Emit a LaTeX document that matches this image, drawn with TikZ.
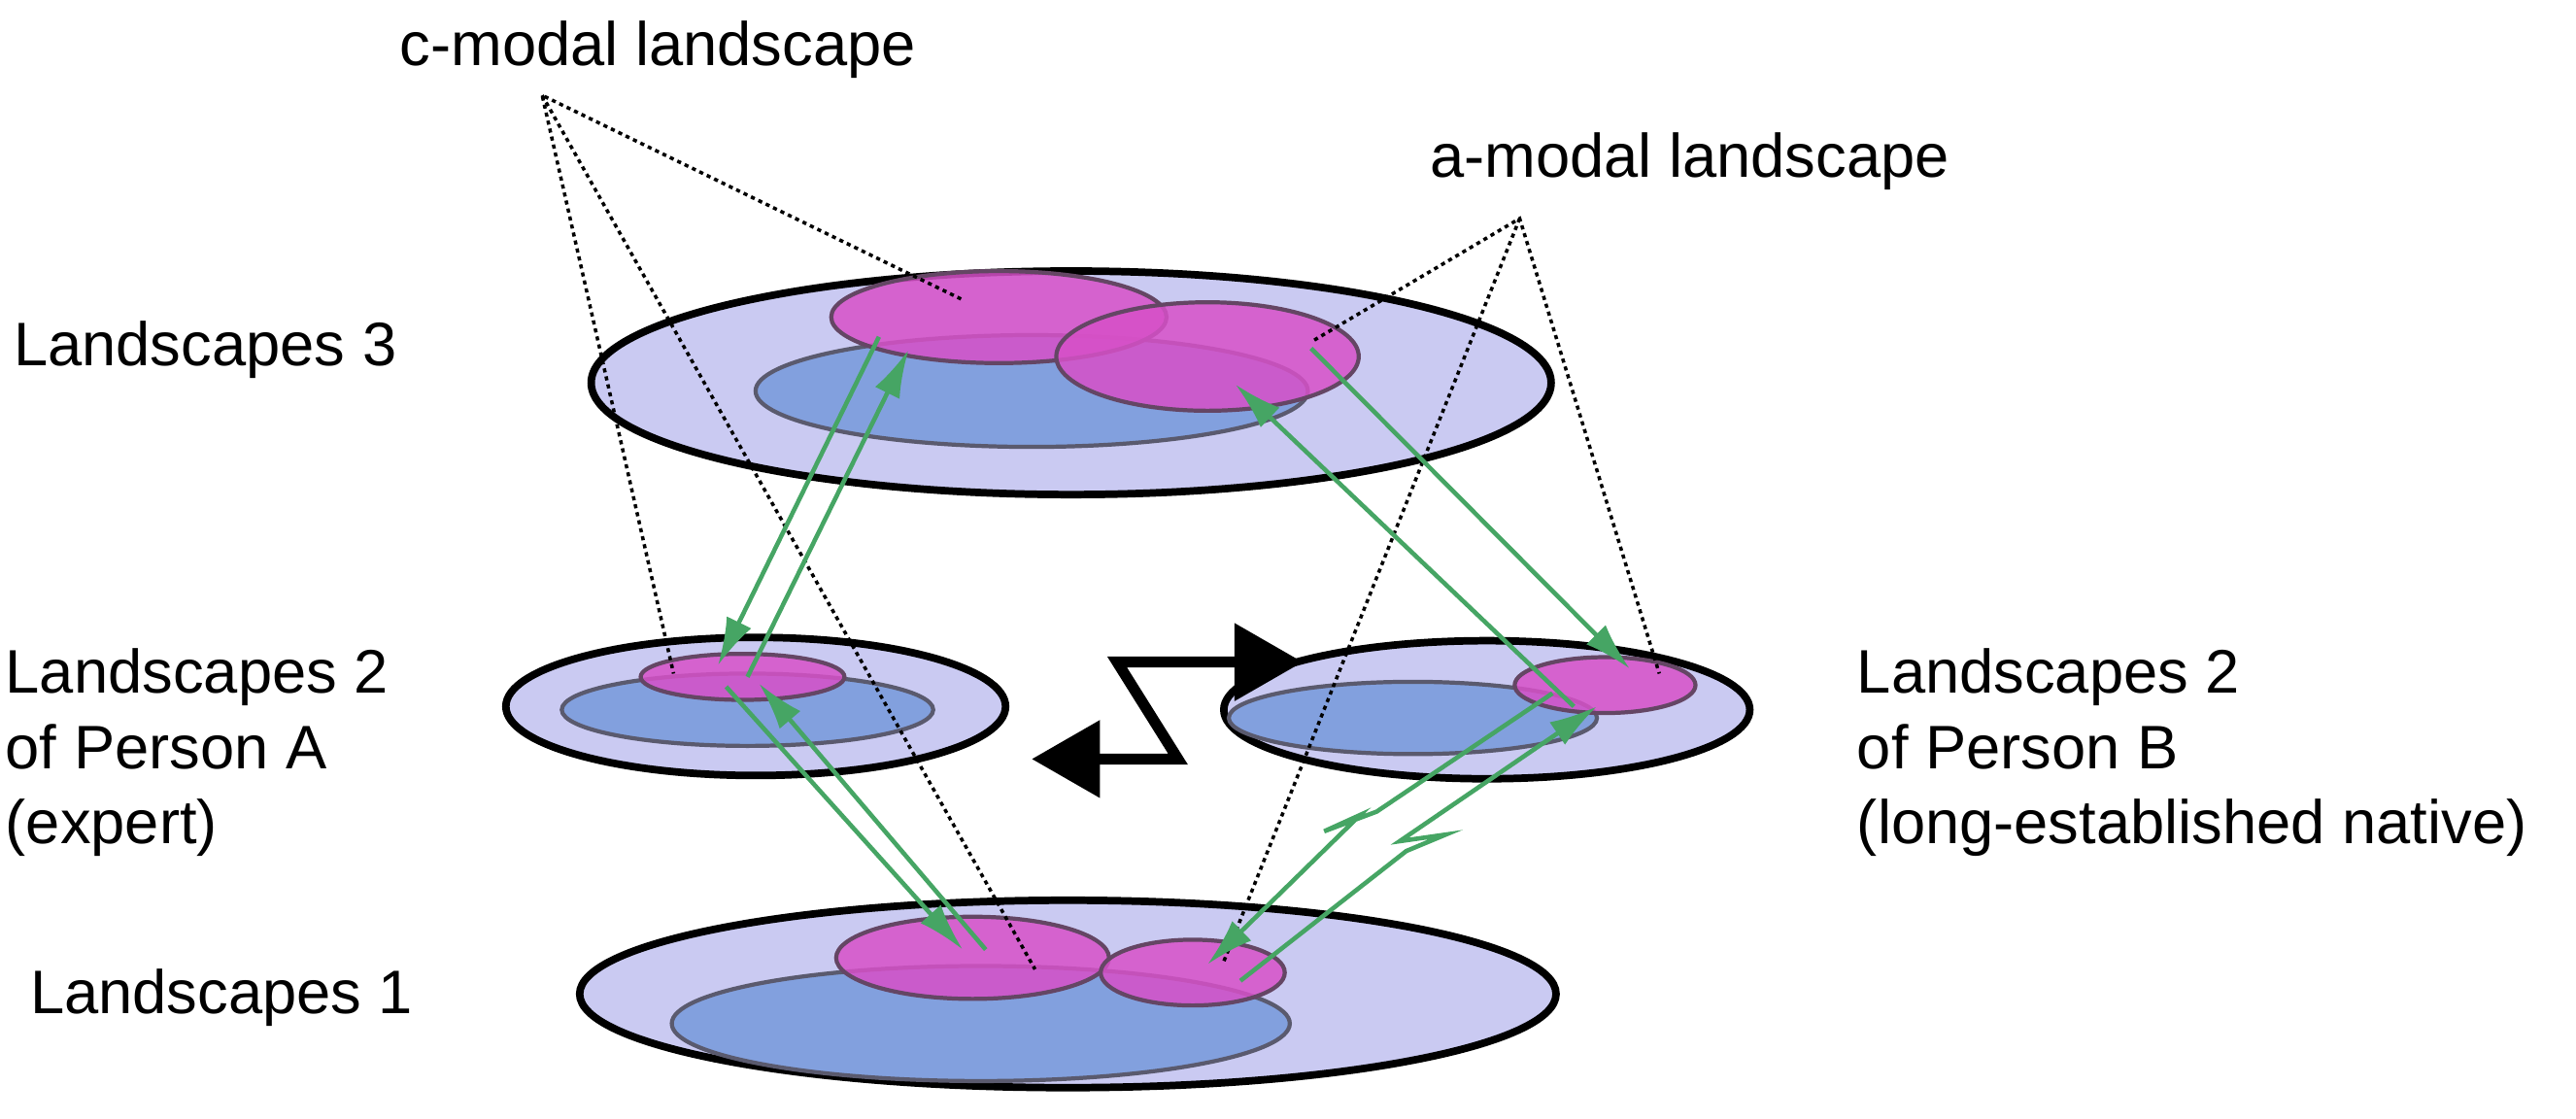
\documentclass[tikz,border=0pt]{standalone}
\usepackage{fontspec}
\setmainfont{Liberation Sans}
\usetikzlibrary{shapes.geometric,arrows.meta}
\newdimen\uu \uu=0.4813pt
\begin{document}
\begin{tikzpicture}[x=0.01691cm,y=-0.01691cm,
  el/.style={ellipse,inner sep=0pt,outer sep=0pt},
  outer/.style={el,draw=black,line width=2.2pt,fill={rgb,255:red,202;green,202;blue,242}},
  blue/.style={el,draw={rgb,255:red,90;green,90;blue,110},line width=1.2pt,fill={rgb,255:red,130;green,160;blue,222}},
  pink/.style={el,draw={rgb,255:red,100;green,70;blue,100},line width=1.2pt,fill={rgb,255:red,215;green,80;blue,200},fill opacity=0.85},
  lbl/.style={font=\fontsize{18}{22}\selectfont,align=left,anchor=west,inner sep=0pt},
  garr/.style={draw={rgb,255:red,70;green,165;blue,100},line width=1.3pt,-{Latex[length=14pt,width=8pt]}},
  dots/.style={draw=black,line width=1pt,dash pattern=on 1.2pt off 1.2pt}]
\useasboundingbox (0,0) rectangle (1568,681);
% top
\node[outer,minimum width=584\uu,minimum height=136\uu] (o3) at (652,233) {};
\node[blue,minimum width=336\uu,minimum height=68\uu] (b3) at (628,238) {};
\node[pink,minimum width=204\uu,minimum height=56\uu] (p3a) at (608,193) {};
\node[pink,minimum width=184\uu,minimum height=66\uu] (p3b) at (735,217) {};
% middle left
\node[outer,minimum width=304\uu,minimum height=84\uu] (oa) at (460,430) {};
\node[blue,minimum width=226\uu,minimum height=44\uu] (ba) at (455,432) {};
\node[pink,minimum width=124\uu,minimum height=28\uu] (pa) at (452,412) {};
% middle right
\node[outer,minimum width=320\uu,minimum height=84\uu] (ob) at (905,432) {};
\node[blue,minimum width=224\uu,minimum height=44\uu] (bb) at (860,437) {};
\node[pink,minimum width=110\uu,minimum height=34\uu] (pb) at (977,417) {};
% bottom
\node[outer,minimum width=594\uu,minimum height=114\uu] (o1) at (650,605) {};
\node[blue,minimum width=376\uu,minimum height=70\uu] (b1) at (597,623) {};
\node[pink,minimum width=166\uu,minimum height=50\uu] (p1a) at (592,583) {};
\node[pink,minimum width=112\uu,minimum height=40\uu] (p1b) at (726,592) {};
% labels
\node[lbl] (t3) at (8,213) {Landscapes 3};
\node[lbl] (t1) at (18,607) {Landscapes 1};
\node[lbl] (tA) at (3,458) {Landscapes 2\\of Person A\\(expert)};
\node[lbl] (tB) at (1130,458) {Landscapes 2\\of Person B\\(long-established native)};
\node[lbl] (tc) at (243,30) {c-modal landscape};
\node[lbl] (ta) at (870,98) {a-modal landscape};
% dotted leaders
\coordinate (cap) at (330,58);
\coordinate (aap) at (925,133);
\coordinate (c1) at (585,182);
\coordinate (c2) at (410,410);
\coordinate (c3) at (630,590);
\coordinate (a1) at (800,207);
\coordinate (a2) at (1010,410);
\coordinate (a3) at (745,585);
\draw[dots] (c1) -- (cap) -- (c2);
\draw[dots] (cap) -- (c3);
\draw[dots] (a1) -- (aap) -- (a2);
\draw[dots] (aap) -- (a3);
% green arrows
\coordinate (g1s) at (535,205); \coordinate (g1e) at (437,405);
\coordinate (g2s) at (455,412); \coordinate (g2e) at (553,213);
\coordinate (g3s) at (442,418); \coordinate (g3e) at (586,578);
\coordinate (g4s) at (600,578); \coordinate (g4e) at (462,416);
\coordinate (g5s) at (958,430); \coordinate (g5e) at (752,234);
\coordinate (g6s) at (798,212); \coordinate (g6e) at (992,407);
\draw[garr] (g1s) -- (g1e);
\draw[garr] (g2s) -- (g2e);
\draw[garr] (g3s) -- (g3e);
\draw[garr] (g4s) -- (g4e);
\draw[garr] (g5s) -- (g5e);
\draw[garr] (g6s) -- (g6e);
\coordinate (g7s) at (945,422); \coordinate (g7e) at (735,587);
\coordinate (g8s) at (755,597); \coordinate (g8e) at (972,430);
\draw[garr] (g7s) -- (838,494) -- (806,506) -- (828,496) -- (g7e);
\draw[garr] (g8s) -- (856,518) -- (880,508) -- (852,512) -- (g8e);
% black zigzag double arrow
\coordinate (zr) at (793,403);
\coordinate (zl) at (628,462);
\draw[line width=3.2pt,{Triangle[length=20pt,width=22pt]}-{Triangle[length=20pt,width=22pt]}] (zl) -- (717,462) -- (680,403) -- (zr);
\end{tikzpicture}
\end{document}
